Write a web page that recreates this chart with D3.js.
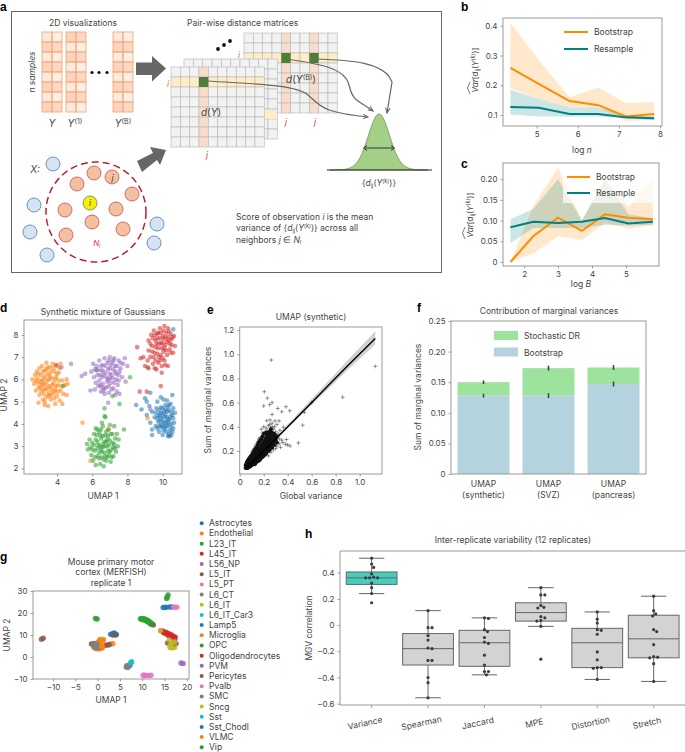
<!DOCTYPE html>
<html>
<head>
<meta charset="utf-8">
<script src="https://cdn.jsdelivr.net/npm/d3@7"></script>
<style>
  html, body { margin: 0; padding: 0; background: #fff; }
  svg text { font-family: Inter, "Noto Sans", sans-serif; fill: #444; }
</style>
</head>
<body>
<div id="chart"></div>
<script>
// panel b
const logN = [4.36, 5.05, 5.8, 6.5, 7.17, 7.86];
const bBoot = [0.258, 0.205, 0.147, 0.133, 0.095, 0.103];
const bBootHi = [0.41, 0.285, 0.16, 0.192, 0.14, 0.143];
const bBootLo = [0.19, 0.155, 0.125, 0.125, 0.08, 0.085];
const bRes = [0.127, 0.124, 0.103, 0.103, 0.092, 0.089];
const bResHi = [0.185, 0.155, 0.125, 0.125, 0.098, 0.095];
const bResLo = [0.102, 0.095, 0.095, 0.095, 0.088, 0.083];

// panel c
const logB = [1.6, 2.27, 3, 3.7, 4.38, 5.07, 5.79];
const cBoot = [0, 0.062, 0.107, 0.075, 0.115, 0.107, 0.103];
const cBootHi = [0, 0.135, 0.228, 0.1, 0.2, 0.132, 0.2];
const cBootLo = [0, 0.02, 0.062, 0.053, 0.095, 0.08, 0.088];
const cRes = [0.084, 0.097, 0.094, 0.097, 0.106, 0.093, 0.097];
const cResHi = [0.103, 0.128, 0.2, 0.1, 0.2, 0.115, 0.105];
const cResLo = [0.045, 0.082, 0.082, 0.082, 0.09, 0.088, 0.09];

// panel d
const dBlue = [[8.5,4.85],[8.8,4.65],[9.0,5.15],[9.3,5.4],[9.1,4.4],[9.1,5.0],[9.25,4.8],[9.4,4.55],[9.3,4.05],[9.4,3.75],[9.4,3.5],[9.55,4.3],[9.6,3.9],[9.65,4.7],[9.7,5.0],[9.75,4.4],[9.8,3.65],[9.85,4.15],[9.9,5.2],[9.9,4.75],[9.95,3.85],[10.0,4.45],[10.0,3.5],[10.05,5.1],[10.1,4.05],[10.15,4.85],[10.2,3.65],[10.25,4.3],[10.25,5.05],[10.3,3.45],[10.3,3.95],[10.35,4.6],[10.4,4.2],[10.4,3.7],[10.45,4.9],[10.5,3.5],[10.5,4.0],[10.55,5.3],[10.55,4.4],[10.65,4.05],[10.7,4.5],[9.8,4.6],[10.1,4.55],[10.2,4.1],[10.6,3.8],[10.6,8.25],[9.9,3.95],[10.0,4.7],[10.3,4.75],[10.15,3.8],[9.75,4.1],[10.45,4.35],[10.35,3.55],[9.7,3.8],[9.8,3.9],[9.85,4.35],[9.95,4.25],[10.05,3.7],[10.05,3.9],[10.1,4.3],[10.15,4.4],[10.2,3.9],[10.25,4.55],[10.3,4.2],[10.35,4.05],[10.4,3.45],[10.45,3.85],[10.5,4.55],[10.55,3.65],[10.6,4.25],[9.9,4.5],[9.7,4.25],[10.0,4.1],[10.35,4.85],[10.15,4.65],[9.6,4.5],[10.6,4.7]];
const dOrange = [[2.6,6.0],[2.7,5.8],[2.75,6.2],[2.8,5.5],[2.85,6.35],[2.9,6.05],[2.95,5.65],[3.0,5.3],[3.0,6.5],[3.05,5.9],[3.1,6.2],[3.1,5.45],[3.15,6.6],[3.2,5.1],[3.2,5.75],[3.25,6.05],[3.3,6.4],[3.3,4.85],[3.35,5.55],[3.4,6.75],[3.4,5.2],[3.45,5.95],[3.5,6.25],[3.5,4.8],[3.55,5.4],[3.6,6.55],[3.6,5.7],[3.65,5.1],[3.7,6.05],[3.75,6.7],[3.75,5.35],[3.8,5.85],[3.85,6.35],[3.9,5.55],[3.9,4.9],[3.95,6.1],[4.0,5.25],[4.0,6.6],[4.05,5.75],[4.1,6.3],[4.15,5.05],[4.2,5.5],[4.2,6.7],[4.3,5.95],[4.35,5.35],[4.45,5.75],[4.55,6.0],[4.6,5.8],[4.55,5.3],[4.3,4.9],[2.95,4.95],[3.3,5.0],[3.5,5.6],[3.3,5.85],[3.7,5.55],[3.6,6.15],[3.15,5.95],[2.9,5.85],[3.85,5.15],[3.4,6.45],[5.45,4.05],[6.95,3.75],[5.9,2.35],[9.15,4.25],[2.8,5.95],[2.95,6.25],[3.05,5.6],[3.2,6.35],[3.25,5.35],[3.35,6.15],[3.4,5.75],[3.5,5.3],[3.55,6.0],[3.6,5.25],[3.65,6.35],[3.75,5.75],[3.8,6.5],[3.85,5.45],[3.9,6.0],[3.95,5.7],[4.0,6.25],[4.05,5.45],[4.1,5.95],[4.15,6.5],[4.25,5.7],[3.25,5.55],[3.45,6.55],[3.1,5.75]];
const dGreen = [[5.7,3.1],[5.75,2.85],[5.85,3.3],[5.9,2.95],[5.95,2.6],[6.0,3.15],[6.05,2.35],[6.1,3.55],[6.15,2.8],[6.2,3.3],[6.2,2.15],[6.2,3.8],[6.3,2.55],[6.35,3.05],[6.4,3.65],[6.45,2.2],[6.5,2.85],[6.5,3.35],[6.55,2.5],[6.6,3.9],[6.6,3.1],[6.65,2.1],[6.7,2.7],[6.75,3.5],[6.8,2.35],[6.85,3.0],[6.9,3.75],[6.95,2.6],[7.0,3.25],[7.05,2.3],[7.1,2.85],[7.15,3.55],[7.2,2.55],[7.25,3.1],[7.3,3.35],[7.35,2.75],[7.4,3.55],[7.45,3.0],[7.5,3.3],[6.55,4.05],[7.0,3.95],[7.25,3.9],[7.8,3.75],[6.7,4.35],[6.75,4.3],[6.7,4.7],[7.55,4.9],[8.15,6.1],[7.15,5.25],[4.35,5.7],[9.15,6.55],[6.25,6.4],[6.45,3.0],[6.7,3.2],[6.3,2.9],[6.9,2.8],[6.6,2.95],[6.85,3.3],[6.4,2.7],[6.0,2.85],[6.1,3.05],[6.15,2.5],[6.25,3.5],[6.3,3.2],[6.4,2.45],[6.45,3.5],[6.55,2.75],[6.6,3.45],[6.65,2.4],[6.7,3.0],[6.75,2.55],[6.8,3.2],[6.85,2.5],[6.9,3.45],[6.95,3.05],[7.0,2.75],[7.05,3.55],[7.1,2.5],[7.15,3.15],[7.2,2.95],[7.3,2.9],[6.5,3.75],[6.3,3.75],[6.8,3.65]];
const dRed = [[8.55,7.45],[8.75,6.95],[8.9,7.0],[9.0,6.6],[9.15,6.85],[9.2,7.3],[9.2,6.5],[9.2,7.75],[9.3,7.0],[9.35,8.0],[9.4,7.5],[9.45,6.7],[9.5,8.2],[9.55,7.2],[9.6,7.75],[9.65,6.45],[9.7,8.05],[9.75,7.4],[9.8,7.0],[9.85,8.3],[9.9,7.65],[9.95,6.6],[9.95,6.3],[10.0,7.95],[10.05,7.25],[10.1,8.4],[10.1,6.85],[10.15,7.55],[10.2,8.1],[10.25,7.1],[10.3,8.3],[10.3,6.6],[10.35,7.75],[10.4,7.35],[10.45,8.05],[10.5,7.55],[10.55,7.9],[10.6,7.2],[10.65,7.95],[10.7,7.5],[9.75,8.1],[10.05,7.8],[8.7,5.45],[9.1,5.45],[9.9,5.7],[3.95,6.65],[9.7,7.15],[9.9,7.1],[10.0,6.95],[9.6,7.45],[9.3,7.6],[9.4,7.25],[9.45,7.85],[9.5,7.0],[9.55,8.0],[9.6,6.85],[9.65,7.6],[9.7,7.85],[9.75,6.75],[9.8,7.6],[9.85,7.85],[9.9,8.1],[9.95,7.4],[10.0,7.6],[10.05,8.2],[10.1,7.4],[10.15,7.9],[10.2,7.3],[10.25,7.7],[10.3,7.9],[10.35,8.15],[10.4,7.6],[10.45,7.2],[10.5,7.8],[9.85,6.85],[10.15,6.65],[9.55,6.5]];
const dPurple = [[5.4,6.15],[5.6,6.25],[5.9,5.5],[5.95,6.35],[6.05,6.7],[6.1,6.1],[6.15,6.45],[6.2,5.85],[6.25,6.6],[6.3,6.2],[6.35,5.7],[6.4,6.85],[6.4,5.95],[6.5,6.4],[6.5,5.45],[6.55,6.1],[6.6,6.65],[6.6,5.8],[6.7,6.95],[6.7,5.35],[6.75,6.3],[6.8,5.65],[6.85,6.75],[6.9,6.0],[6.95,5.4],[7.0,6.5],[7.0,7.0],[7.05,5.85],[7.1,6.2],[7.15,6.75],[7.2,5.6],[7.25,6.95],[7.3,6.35],[7.3,5.3],[7.35,6.0],[7.4,6.6],[7.45,5.75],[7.5,6.85],[7.5,6.2],[7.55,5.35],[7.6,6.5],[7.7,6.1],[7.75,6.7],[7.85,6.95],[8.0,6.6],[7.9,5.9],[6.9,4.95],[4.8,6.7],[4.25,6.55],[6.15,5.55],[9.3,4.65],[6.8,6.1],[7.0,6.25],[6.6,6.4],[7.2,6.45],[6.95,5.7],[6.3,6.45],[6.45,6.2],[6.5,6.6],[6.55,5.65],[6.65,6.2],[6.7,5.6],[6.75,6.6],[6.85,5.9],[6.9,6.45],[6.95,6.85],[7.0,6.05],[7.05,6.65],[7.1,5.55],[7.15,6.05],[7.2,6.85],[7.25,5.85],[7.3,6.6],[7.35,6.25],[7.4,5.45],[6.45,5.75],[6.65,5.5],[7.5,5.95],[7.6,6.75],[7.55,6.35]];
const dColors = ["#1f77b4", "#ff7f0e", "#2ca02c", "#d62728", "#9467bd"];
const dSeries = [dBlue, dOrange, dGreen, dRed, dPurple];

// panel e
const eOutliers = [[0.264,0.952],[1.13,0.9],[0.858,0.645],[0.205,0.69],[0.23,0.637],[0.27,0.6],[0.25,0.583],[0.2,0.572],[0.317,0.552],[0.35,0.525],[0.386,0.566],[0.417,0.533],[0.539,0.519],[0.6,0.6],[0.27,0.502],[0.525,0.413],[0.489,0.267],[0.225,0.45],[0.253,0.457],[0.294,0.449],[0.328,0.449],[0.42,0.242],[0.39,0.295],[0.35,0.29],[0.383,0.256],[0.364,0.396],[0.4,0.25],[0.33,0.3],[0.31,0.42],[0.335,0.37],[0.29,0.4],[0.2,0.4],[0.18,0.38],[0.24,0.41],[0.27,0.43],[0.21,0.36],[0.3,0.36],[0.28,0.38],[0.26,0.39],[0.23,0.37],[0.32,0.34],[0.25,0.42],[0.27,0.4],[0.22,0.39],[0.19,0.35],[0.3,0.33],[0.33,0.26],[0.36,0.27],[0.34,0.23],[0.31,0.24],[0.28,0.21],[0.3,0.22],[0.26,0.19],[0.24,0.16],[0.17,0.31],[0.16,0.3],[0.15,0.28],[0.14,0.26],[0.13,0.24],[0.12,0.22],[0.11,0.2],[0.1,0.19]];
const eDense = [[0.05,0.06],[0.05,0.08],[0.055,0.07],[0.055,0.09],[0.06,0.06],[0.06,0.075],[0.06,0.095],[0.06,0.11],[0.065,0.06],[0.065,0.08],[0.065,0.1],[0.07,0.065],[0.07,0.085],[0.07,0.11],[0.07,0.125],[0.075,0.07],[0.075,0.09],[0.075,0.105],[0.08,0.07],[0.08,0.09],[0.08,0.12],[0.08,0.14],[0.085,0.08],[0.085,0.1],[0.09,0.075],[0.09,0.095],[0.09,0.115],[0.09,0.135],[0.09,0.155],[0.095,0.085],[0.095,0.105],[0.1,0.085],[0.1,0.1],[0.1,0.12],[0.1,0.14],[0.1,0.165],[0.105,0.09],[0.11,0.095],[0.11,0.115],[0.11,0.13],[0.11,0.15],[0.11,0.18],[0.115,0.105],[0.12,0.1],[0.12,0.125],[0.12,0.145],[0.12,0.165],[0.12,0.2],[0.125,0.115],[0.13,0.115],[0.13,0.135],[0.13,0.155],[0.13,0.175],[0.13,0.215],[0.14,0.125],[0.14,0.145],[0.14,0.165],[0.14,0.19],[0.14,0.23],[0.15,0.13],[0.15,0.155],[0.15,0.175],[0.15,0.2],[0.15,0.25],[0.16,0.14],[0.16,0.165],[0.16,0.19],[0.16,0.215],[0.16,0.27],[0.17,0.15],[0.17,0.175],[0.17,0.2],[0.17,0.23],[0.17,0.285],[0.18,0.165],[0.18,0.19],[0.18,0.215],[0.18,0.245],[0.18,0.3],[0.19,0.175],[0.19,0.2],[0.19,0.225],[0.19,0.26],[0.19,0.32],[0.2,0.19],[0.2,0.215],[0.2,0.24],[0.2,0.275],[0.2,0.34],[0.21,0.205],[0.21,0.23],[0.21,0.255],[0.21,0.29],[0.22,0.21],[0.22,0.24],[0.22,0.27],[0.22,0.31],[0.22,0.35],[0.23,0.225],[0.23,0.255],[0.23,0.285],[0.23,0.33],[0.24,0.23],[0.24,0.26],[0.24,0.3],[0.24,0.35],[0.25,0.235],[0.25,0.27],[0.25,0.31],[0.25,0.36],[0.26,0.25],[0.26,0.285],[0.26,0.33],[0.26,0.38],[0.27,0.26],[0.27,0.3],[0.27,0.35],[0.28,0.27],[0.28,0.32],[0.29,0.28],[0.29,0.34],[0.3,0.29],[0.3,0.31],[0.31,0.32],[0.12,0.09],[0.14,0.11],[0.16,0.12],[0.18,0.145],[0.2,0.16],[0.22,0.18],[0.24,0.2],[0.13,0.095],[0.17,0.13],[0.19,0.15],[0.21,0.17],[0.25,0.21],[0.27,0.23],[0.29,0.25],[0.31,0.27],[0.06,0.085],[0.07,0.075],[0.08,0.08],[0.09,0.085],[0.1,0.11],[0.11,0.105],[0.12,0.11],[0.13,0.125],[0.14,0.135],[0.15,0.145],[0.16,0.155],[0.17,0.165],[0.18,0.175],[0.19,0.19],[0.2,0.2],[0.21,0.215],[0.22,0.225],[0.23,0.24],[0.24,0.245]];
const eFitX = [0.06, 0.3, 0.6, 0.9, 1.13];
const eFitY = [0.065, 0.3, 0.6, 0.905, 1.13];
const eFitHi = [0.07, 0.315, 0.63, 0.95, 1.19];
const eFitLo = [0.06, 0.29, 0.58, 0.87, 1.08];

// panel f
const fCats = [["UMAP", "(synthetic)"], ["UMAP", "(SVZ)"], ["UMAP", "(pancreas)"]];
const fBoot = [0.128, 0.128, 0.147];
const fTotal = [0.15, 0.173, 0.174];
const fBootErr = [0.003, 0.004, 0.004];
const fTotalErr = [0.003, 0.004, 0.004];

// panel g, one short run of points per blob
const gNames = ["Astrocytes","Endothelial","L23_IT","L45_IT","L56_NP","L5_IT","L5_PT","L6_CT","L6_IT","L6_IT_Car3","Lamp5","Microglia","OPC","Oligodendrocytes","PVM","Pericytes","Pvalb","SMC","Sncg","Sst","Sst_Chodl","VLMC","Vip"];
const gColors = ["#1f77b4","#ff7f0e","#2ca02c","#d62728","#9467bd","#8c564b","#e377c2","#7f7f7f","#bcbd22","#17becf","#1f77b4","#ff7f0e","#2ca02c","#d62728","#9467bd","#8c564b","#e377c2","#7f7f7f","#bcbd22","#17becf","#1f77b4","#ff7f0e","#2ca02c"];
const gPoints = {
  Astrocytes: [[16.2,22.7],[16.6,22.7],[2.9,10.3],[3.3,10.6],[3.8,10.6],[4.2,10.3]],
  Endothelial: [[-0.9,4.6],[-0.6,4],[-0.2,3.7],[0.2,3.7],[0.6,3.8],[1,4.1],[2.8,5.9],[3.4,6]],
  L23_IT: [[9.6,17.4],[10,17.5],[10.4,17.4],[10.8,17.1],[11.2,16.7],[11.6,16.2],[12,15.5],[12.3,14.9],[9.9,17],[10.5,16.7],[11,16.2],[11.5,15.6],[12,14.9]],
  L45_IT: [[14.2,11.9],[14.7,11.7],[15.2,11.2],[15.7,10.6],[16.2,10.1],[16.7,9.6],[17.2,9],[17.3,7.8],[14.8,11],[15.4,10.4],[16,9.6],[16.6,9],[17,8.2]],
  L56_NP: [[17.1,7.7],[17.1,8.2]],
  L5_IT: [[12.5,14.6],[15.7,6.4],[17.6,6.1],[3.7,10.1],[4.1,10],[-1.4,5.9],[-1,6.1]],
  L5_PT: [[17,22.6],[17.4,22.6],[17.8,22.6]],
  L6_CT: [[-1,5.4],[-0.6,5],[-0.2,4.8],[0.2,4.4],[-0.3,5.6],[0.5,5.2],[-0.6,4.4],[0,4.2],[6.4,-4.6],[6.8,-4.8],[7,-4.2],[7.3,-3.7],[6.9,-3.8],[6.5,-4]],
  L6_IT: [[14.1,12],[16.1,7.7],[16.9,5],[16.4,4.2],[16.9,4.2],[17.3,4.4],[17.2,5.6],[16.6,4.7],[16.2,4.5]],
  L6_IT_Car3: [[7.4,-2.6],[7.6,-2.2]],
  Lamp5: [[14.7,22.5],[15.1,22.5],[15.4,22.6]],
  Microglia: [[0.1,6.8],[0.5,7.2],[0.9,7.6],[1.3,8],[0.5,8],[1.2,7.3]],
  OPC: [[15.8,28.2],[15.6,27.2],[15.5,26.6],[-0.5,17.5],[-0.1,17.3]],
  Oligodendrocytes: [[15.4,11.2],[16,10.6],[16.6,10],[17,9.2],[17.4,9]],
  PVM: [[18.7,-2.7],[19.2,-2.9]],
  Pericytes: [[-12.6,8.1],[-12.2,8.5],[3.4,10],[1.8,5.3],[2.2,5.5],[2.6,5.6]],
  Pvalb: [[10.2,-8.4],[10.6,-8.5],[11,-8.4],[11.5,-8.4],[12,-8.3],[10.4,-8.2]],
  SMC: [[-0.8,6.2],[-0.2,6.1],[0.2,4.8],[17.2,6.1]],
  Sncg: [[16.4,5.7],[17.2,6.8]],
  Sst: [[7.6,-2.3]],
  Sst_Chodl: [[3.7,10.9]],
  VLMC: [[1.1,4.5],[0.9,5]],
  Vip: [[12,15.1]]
};

// panel h
const hCats = ["Variance", "Spearman", "Jaccard", "MPE", "Distortion", "Stretch"];
const hValues = [
  [0.51, 0.465, 0.44, 0.39, 0.365, 0.36, 0.36, 0.36, 0.32, 0.285, 0.24, 0.17],
  [0.11, -0.02, -0.02, -0.08, -0.115, -0.175, -0.18, -0.27, -0.27, -0.4, -0.44, -0.555],
  [0.055, 0.05, -0.035, -0.05, -0.095, -0.13, -0.14, -0.23, -0.305, -0.355, -0.355, -0.38],
  [0.285, 0.23, 0.23, 0.15, 0.135, 0.13, 0.065, 0.055, 0.035, 0.03, -0.01, -0.26],
  [0.1, 0.045, 0.015, -0.035, -0.04, -0.07, -0.205, -0.265, -0.325, -0.325, -0.33, -0.415],
  [0.22, 0.11, 0.085, 0.07, -0.035, -0.05, -0.15, -0.24, -0.245, -0.25, -0.295, -0.43]
];
const hQ1 = [0.31, -0.305, -0.315, 0.03, -0.325, -0.25];
const hMed = [0.36, -0.18, -0.135, 0.095, -0.135, -0.105];
const hQ3 = [0.405, -0.065, -0.04, 0.17, -0.025, 0.075];
const hWhiskLo = [0.24, -0.555, -0.38, -0.01, -0.415, -0.43];
const hWhiskHi = [0.51, 0.11, 0.055, 0.285, 0.1, 0.22];

// panel a
const aBlue = [[53,164],[34,205],[30,232],[47,255],[157,224],[154,243]];
const aRed = [[94,173],[77,184],[132,194],[65,210],[116,209],[92,222],[66,235],[123,229]];

const ORANGE = "#ff8c00", TEAL = "#008080", SPINE = "#999", TXT = "#444";
const FS = 8.5, TICK = 8;
const fmtNum = d => d === 0 ? "0" : String(d).replace("-", "\u2212");

const svg = d3.select("#chart").append("svg")
  .attr("width", 685).attr("height", 752)
  .style("display", "block");

function label(x, y, str, size, anchor, rot) {
  const t = svg.append("text")
    .attr("x", x).attr("y", y)
    .attr("font-size", size || FS)
    .attr("text-anchor", anchor || "middle")
    .text(str);
  if (rot) t.attr("transform", `rotate(${rot},${x},${y})`);
  return t;
}

function letter(x, y, str) {
  label(x, y, str, 12, "start").attr("font-weight", 800).style("fill", "#000").style("font-family", "Liberation Sans, sans-serif");
}

function frame(x, y) {
  const [x0, x1] = x.range(), [y1, y0] = y.range();
  svg.append("rect").attr("x", x0).attr("y", y0)
    .attr("width", x1 - x0).attr("height", y1 - y0)
    .attr("fill", "none").attr("stroke", SPINE).attr("stroke-width", 1);
}

function axes(x, y, xt, yt, xFmt, yFmt) {
  const bottom = y.range()[0], left = x.range()[0];
  const gx = svg.append("g").attr("transform", `translate(0,${bottom})`)
    .call(d3.axisBottom(x).tickValues(xt).tickSize(2.5).tickPadding(3).tickFormat(xFmt || fmtNum));
  const gy = svg.append("g").attr("transform", `translate(${left},0)`)
    .call(d3.axisLeft(y).tickValues(yt).tickSize(2.5).tickPadding(3).tickFormat(yFmt || fmtNum));
  [gx, gy].forEach(g => {
    g.select(".domain").remove();
    g.selectAll("line").attr("stroke", "#777").attr("stroke-width", 0.7);
    g.selectAll("text").attr("font-size", TICK).style("fill", TXT);
  });
}

function bandLine(x, y, xs, mid, hi, lo, color) {
  const area = d3.area().x((d, i) => x(xs[i])).y0((d, i) => y(lo[i])).y1((d, i) => y(hi[i]));
  const line = d3.line().x((d, i) => x(xs[i])).y((d, i) => y(d));
  svg.append("path").attr("d", area(mid)).attr("fill", color).attr("opacity", 0.2);
  return () => svg.append("path").attr("d", line(mid)).attr("fill", "none").attr("stroke", color).attr("stroke-width", 2);
}

// ---- a ----
letter(0, 11, "a");
svg.append("rect").attr("x", 11.5).attr("y", 11.5).attr("width", 430).attr("height", 261)
  .attr("fill", "#fff").attr("stroke", "#666").attr("stroke-width", 1);
label(83, 26, "2D visualizations");
label(187, 26, "Pair-wise distance matrices", FS, "start");
label(35, 72, "n samples", FS, "middle", -90).attr("font-style", "italic");

[42, 66, 113].forEach((x0, k) => {
  d3.range(8).forEach(r => d3.range(2).forEach(c => {
    svg.append("rect").attr("x", x0 + c * 10).attr("y", 32 + r * 10)
      .attr("width", 10).attr("height", 10)
      .attr("fill", "#f9c9ad").attr("fill-opacity", ((r + k) % 2 ? 0.8 : 0.4) - c * 0.1)
      .attr("stroke", "#f4a26f").attr("stroke-width", 0.8);
  }));
});
[[52, "Y", ""], [75, "Y", "(1)"], [123, "Y", "(B)"]].forEach(([x, a, b]) => {
  const t = label(x, 127, "", 10);
  t.append("tspan").attr("font-style", "italic").text(a);
  if (b) t.append("tspan").attr("font-size", 7).attr("dy", -3).text(b);
});
[92, 99, 107].forEach(x => svg.append("circle").attr("cx", x).attr("cy", 72.5).attr("r", 1.6).attr("fill", "#111"));
[[218, 49], [224, 45], [230, 41]].forEach(([x, y]) => svg.append("circle").attr("cx", x).attr("cy", y).attr("r", 1.9).attr("fill", "#111"));

function matrix(x0, y0, cols, row, fillAll) {
  const w = 9.33, h = 10;
  d3.range(8).forEach(r => d3.range(10).forEach(c => {
    let fill = "#f2f2f2";
    if (fillAll) {
      if (r === row) fill = "#fdeec5";
      if (cols.includes(c)) fill = "#f9dccb";
    }
    svg.append("rect").attr("x", x0 + c * w).attr("y", y0 + r * h).attr("width", w).attr("height", h)
      .attr("fill", fill).attr("stroke", "#bdbdbd").attr("stroke-width", 0.7);
  }));
  if (fillAll) cols.forEach(c => {
    svg.append("rect").attr("x", x0 + c * w).attr("y", y0 + row * h).attr("width", w).attr("height", h).attr("fill", "#4f7f36");
  });
}
matrix(244, 33, [4, 7], 2, true);
matrix(184, 59, [], 5, false);
svg.append("rect").attr("x", 265).attr("y", 110).attr("width", 12).attr("height", 9).attr("fill", "#fdeec5");
matrix(171, 67, [3], 1, true);

label(301, 83, "", 10).call(t => {
  t.append("tspan").attr("font-style", "italic").text("d");
  t.append("tspan").text("(");
  t.append("tspan").attr("font-style", "italic").text("Y");
  t.append("tspan").attr("font-size", 7).attr("dy", -3).text("(B)");
  t.append("tspan").attr("dy", 3).text(")");
});
label(211, 116, "", 10).call(t => {
  t.append("tspan").attr("font-style", "italic").text("d");
  t.append("tspan").text("(");
  t.append("tspan").attr("font-style", "italic").text("Y");
  t.append("tspan").text(")");
});
[[168, 87, "i", "#b58a2a"], [239, 58, "i", "#b58a2a"], [207, 158, "j", "#d33"], [286, 125, "j", "#d33"], [315, 125, "j", "#d33"]].forEach(([x, y, s, c]) => {
  label(x, y, s, 8.5).attr("font-style", "italic").style("fill", c);
});

// big grey arrows
svg.append("path").attr("d", "M136,62.5H152V56L166,68.5L152,81.5V75H136Z").attr("fill", "#666");
svg.append("path").attr("d", "M142,172L137,161L153,153L150,147L166,150L160,165L157,160Z").attr("fill", "#666");

// curves to the gaussian
svg.append("defs").append("marker").attr("id", "ah").attr("viewBox", "0 0 8 8").attr("refX", 7).attr("refY", 4)
  .attr("markerWidth", 5).attr("markerHeight", 5).attr("orient", "auto")
  .append("path").attr("d", "M0,1L7,4L0,7").attr("fill", "none").attr("stroke", "#666").attr("stroke-width", 1.4);
["M207,81C250,84 295,84 308,95S320,112 368,117",
 "M287,59C320,64 345,68 349,85S358,100 373,111",
 "M315,59C350,60 385,62 392,82L387,113"].forEach(d => {
  svg.append("path").attr("d", d).attr("fill", "none").attr("stroke", "#666").attr("stroke-width", 1.2).attr("marker-end", "url(#ah)");
});

// gaussian shape of the sketch
const gaussX = d3.scaleLinear().domain([-1, 1]).range([330, 428]);
const gaussY = d3.scaleLinear().domain([0, 1]).range([170, 114]);
const gaussT = d3.range(-1, 1.001, 0.02);
svg.append("path")
  .attr("d", d3.area().x(d => gaussX(d)).y0(gaussY(0)).y1(d => gaussY(0.9 * Math.exp(-d * d / 0.09) + 0.1 * Math.exp(-d * d / 0.3) * (1 - d * d)))(gaussT))
  .attr("fill", "#a5cf87").attr("stroke", "#4f7f36").attr("stroke-width", 0.6);
svg.append("line").attr("x1", 327).attr("x2", 432).attr("y1", 170).attr("y2", 170).attr("stroke", "#222").attr("stroke-width", 1.1);
svg.append("line").attr("x1", 365).attr("x2", 393).attr("y1", 148).attr("y2", 148).attr("stroke", "#334").attr("stroke-width", 1);
svg.append("path").attr("d", "M367,145.5L363.5,148L367,150.5M391,145.5L394.5,148L391,150.5").attr("fill", "none").attr("stroke", "#334");

function dij(t) {
  t.append("tspan").text("{");
  t.append("tspan").attr("font-style", "italic").text("d");
  t.append("tspan").attr("font-size", 5.5).attr("dy", 1.5).text("ij");
  t.append("tspan").attr("dy", -1.5).text("(");
  t.append("tspan").attr("font-style", "italic").text("Y");
  t.append("tspan").attr("font-size", 5.5).attr("dy", -3).text("(k)");
  t.append("tspan").attr("dy", 3).text(")}");
}
label(379, 186, "").call(dij);
label(236, 220, "Score of observation ", FS, "start").call(t => {
  t.append("tspan").attr("font-style", "italic").text("i");
  t.append("tspan").text(" is the mean");
});
label(236, 231, "variance of ", FS, "start").call(t => {
  dij(t);
  t.append("tspan").text(" across all");
});
label(236, 242.5, "neighbors ", FS, "start").call(t => {
  t.append("tspan").attr("font-style", "italic").text("j");
  t.append("tspan").text(" \u2208 ");
  t.append("tspan").attr("font-style", "italic").text("N");
  t.append("tspan").attr("font-style", "italic").attr("font-size", 5.5).attr("dy", 1.5).text("i");
});

// neighbourhood sketch
label(35, 173, "X:", 10).attr("font-style", "italic");
aBlue.forEach(([x, y]) => svg.append("circle").attr("cx", x).attr("cy", y).attr("r", 7)
  .attr("fill", "#d5e3f3").attr("stroke", "#4b7aa8").attr("stroke-width", 0.8));
svg.append("circle").attr("cx", 96).attr("cy", 212).attr("r", 50).attr("fill", "none")
  .attr("stroke", "#b5222c").attr("stroke-width", 1.5).attr("stroke-dasharray", "7,4");
aRed.forEach(([x, y]) => svg.append("circle").attr("cx", x).attr("cy", y).attr("r", 7)
  .attr("fill", "#f5c0a0").attr("stroke", "#c05050").attr("stroke-width", 0.8));
svg.append("circle").attr("cx", 112).attr("cy", 177).attr("r", 7).attr("fill", "#f5c0a0").attr("stroke", "#c05050").attr("stroke-width", 0.8);
label(112.5, 180.5, "j", 8.5).attr("font-style", "italic");
svg.append("circle").attr("cx", 90).attr("cy", 203).attr("r", 7).attr("fill", "#f5f000").attr("stroke", "#777").attr("stroke-width", 0.8);
label(90, 205.5, "i", 8.5).attr("font-style", "italic");
label(97, 246, "N", 8).attr("font-style", "italic").style("fill", "#d33")
  .append("tspan").attr("font-size", 5.5).attr("dy", 1.5).text("i");

// ---- b ----
letter(461, 11, "b");
{
  const x = d3.scaleLinear().domain([4.18, 8.05]).range([503, 662]);
  const y = d3.scaleLinear().domain([0.063, 0.426]).range([126, 18]);
  const drawA = bandLine(x, y, logN, bBoot, bBootHi, bBootLo, ORANGE);
  const drawB = bandLine(x, y, logN, bRes, bResHi, bResLo, TEAL);
  drawA(); drawB();
  frame(x, y);
  axes(x, y, [5, 6, 7, 8], [0.1, 0.2, 0.3, 0.4]);
  [[32, ORANGE, "Bootstrap"], [49, TEAL, "Resample"]].forEach(([ly, c, s]) => {
    svg.append("line").attr("x1", 564).attr("x2", 588).attr("y1", ly).attr("y2", ly).attr("stroke", c).attr("stroke-width", 2);
    label(594, ly + 3, s, FS, "start");
  });
  label(582, 153, "log ").append("tspan").attr("font-style", "italic").text("n");
}

function varLabel(cx, cy) {
  const g = svg.append("g").attr("transform", `translate(${cx},${cy}) rotate(-90)`);
  const t = g.append("text").attr("text-anchor", "middle").attr("font-size", 8);
  t.append("tspan").attr("font-style", "italic").text("Var");
  t.append("tspan").text("[");
  t.append("tspan").attr("font-style", "italic").text("d");
  t.append("tspan").attr("font-size", 5.5).attr("dy", 1.5).text("ij");
  t.append("tspan").attr("dy", -1.5).text("(");
  t.append("tspan").attr("font-style", "italic").text("Y");
  t.append("tspan").attr("font-size", 5.5).attr("dy", -3).text("(k)");
  t.append("tspan").attr("dy", 3).text(")]");
  g.append("path").attr("d", "M-24,-8L-18,-10.5L-12,-8").attr("fill", "none").attr("stroke", TXT).attr("stroke-width", 0.7);
}
varLabel(478, 70);

// ---- c ----
letter(461, 168, "c");
{
  const x = d3.scaleLinear().domain([1.38, 5.97]).range([503, 659]);
  const y = d3.scaleLinear().domain([-0.0097, 0.239]).range([266, 163]);
  const drawA = bandLine(x, y, logB, cBoot, cBootHi, cBootLo, ORANGE);
  const drawB = bandLine(x, y, logB, cRes, cResHi, cResLo, TEAL);
  svg.append("rect").attr("x", 563).attr("y", 163).attr("width", 96).attr("height", 40).attr("fill", "#fff").attr("opacity", 0.7);
  drawA(); drawB();
  frame(x, y);
  axes(x, y, [2, 3, 4, 5], [0, 0.05, 0.1, 0.15, 0.2], null, d => d === 0 ? "0" : d.toFixed(2));
  [[177, ORANGE, "Bootstrap"], [193, TEAL, "Resample"]].forEach(([ly, c, s]) => {
    svg.append("line").attr("x1", 567).attr("x2", 590).attr("y1", ly).attr("y2", ly).attr("stroke", c).attr("stroke-width", 2);
    label(596, ly + 3, s, FS, "start");
  });
  label(581, 287, "log ").append("tspan").attr("font-style", "italic").text("B");
}
varLabel(473, 215);

// ---- d ----
letter(0, 312, "d");
label(103, 315, "Synthetic mixture of Gaussians");
{
  const x = d3.scaleLinear().domain([2.125, 11.1]).range([24, 182]);
  const y = d3.scaleLinear().domain([1.75, 8.67]).range([474, 320]);
  dSeries.forEach((pts, k) => {
    svg.append("g").selectAll("circle").data(pts).join("circle")
      .attr("cx", d => x(d[0])).attr("cy", d => y(d[1])).attr("r", 2.3)
      .attr("fill", dColors[k]).attr("fill-opacity", 0.55);
  });
  frame(x, y);
  axes(x, y, [4, 6, 8, 10], [2, 3, 4, 5, 6, 7, 8]);
  label(103, 499, "UMAP 1");
  label(7, 395, "UMAP 2", FS, "middle", -90);
}

// ---- e ----
letter(207, 314, "e");
label(311, 320, "UMAP (synthetic)");
{
  const x = d3.scaleLinear().domain([0, 1.186]).range([239.7, 382]);
  const y = d3.scaleLinear().domain([0.01, 1.225]).range([474, 327]);
  const fitI = eFitX.map((d, i) => i);
  svg.append("path")
    .attr("d", d3.area().x(i => x(eFitX[i])).y0(i => y(eFitLo[i])).y1(i => y(eFitHi[i]))(fitI))
    .attr("fill", "#000").attr("opacity", 0.18);
  const plusPath = d => `M${x(d[0]) - 2},${y(d[1])}h4M${x(d[0])},${y(d[1]) - 2}v4`;
  svg.append("g").selectAll("path").data(eOutliers.concat(eDense)).join("path")
    .attr("d", plusPath).attr("stroke", "#222").attr("stroke-width", 0.6).attr("stroke-opacity", 0.75).attr("fill", "none");
  svg.append("g").selectAll("circle").data(eDense).join("circle")
    .attr("cx", d => x(d[0])).attr("cy", d => y(d[1])).attr("r", 2).attr("fill", "#111");
  svg.append("path").attr("d", d3.line().x(i => x(eFitX[i])).y(i => y(eFitY[i]))(fitI))
    .attr("stroke", "#000").attr("stroke-width", 1.4).attr("fill", "none");
  frame(x, y);
  axes(x, y, [0, 0.2, 0.4, 0.6, 0.8, 1], [0.2, 0.4, 0.6, 0.8, 1, 1.2], d => d === 0 ? "0" : d.toFixed(1), d => d.toFixed(1));
  label(311, 499, "Global variance");
  label(211, 400, "Sum of marginal variances", FS, "middle", -90);
}

// ---- f ----
letter(417, 312, "f");
label(549, 314, "Contribution of marginal variances");
{
  const x = d3.scaleBand().domain(d3.range(3)).range([451, 646]).paddingInner(0.2).paddingOuter(0.1);
  const y = d3.scaleLinear().domain([0, 0.25]).range([474, 321]);
  fTotal.forEach((t, i) => {
    svg.append("rect").attr("x", x(i)).attr("width", x.bandwidth()).attr("y", y(t)).attr("height", y(fBoot[i]) - y(t)).attr("fill", "#9de29d");
    svg.append("rect").attr("x", x(i)).attr("width", x.bandwidth()).attr("y", y(fBoot[i])).attr("height", y(0) - y(fBoot[i])).attr("fill", "#b5d3df");
    const cx = x(i) + x.bandwidth() / 2;
    [[t, fTotalErr[i]], [fBoot[i], fBootErr[i]]].forEach(([v, e]) => {
      svg.append("line").attr("x1", cx).attr("x2", cx).attr("y1", y(v - e)).attr("y2", y(v + e)).attr("stroke", "#444").attr("stroke-width", 1.6);
    });
  });
  frame(x, y);
  const gy = svg.append("g").attr("transform", "translate(451,0)")
    .call(d3.axisLeft(y).tickValues([0, 0.05, 0.1, 0.15, 0.2, 0.25]).tickSize(2.5).tickPadding(3).tickFormat(d => d === 0 ? "0" : d.toFixed(2)));
  gy.select(".domain").remove();
  gy.selectAll("line").attr("stroke", "#777").attr("stroke-width", 0.7);
  gy.selectAll("text").attr("font-size", TICK).style("fill", TXT);
  fCats.forEach((c, i) => {
    const cx = x(i) + x.bandwidth() / 2;
    label(cx, 487, c[0]);
    label(cx, 498, c[1]);
  });
  [[331, "#9de29d", "Stochastic DR"], [347.5, "#b5d3df", "Bootstrap"]].forEach(([ly, c, s]) => {
    svg.append("rect").attr("x", 494).attr("y", ly).attr("width", 24).attr("height", 9).attr("fill", c);
    label(524, ly + 8, s, FS, "start");
  });
  label(421, 397, "Sum of marginal variances", FS, "middle", -90);
}

// ---- g ----
letter(0, 561, "g");
["Mouse primary motor", "cortex (MERFISH)", "replicate 1"].forEach((s, i) => label(111, 565 + i * 10.4, s));
{
  const x = d3.scaleLinear().domain([-14.5, 20.5]).range([33, 189]);
  const y = d3.scaleLinear().domain([-10, 30]).range([679, 591]);
  gNames.forEach((n, k) => {
    svg.append("g").selectAll("circle").data(gPoints[n]).join("circle")
      .attr("cx", d => x(d[0])).attr("cy", d => y(d[1])).attr("r", 2.7)
      .attr("fill", gColors[k]).attr("fill-opacity", 0.85);
  });
  frame(x, y);
  axes(x, y, [-10, -5, 0, 5, 10, 15, 20], [-10, 0, 10, 20, 30]);
  label(111, 703, "UMAP 1");
  label(10, 635, "UMAP 2", FS, "middle", -90);
  const ly = d3.scalePoint().domain(gNames).range([523.3, 747.3]);
  gNames.forEach((n, k) => {
    svg.append("circle").attr("cx", 201.7).attr("cy", ly(n)).attr("r", 2).attr("fill", gColors[k]);
    label(209, ly(n) + 3, n, FS, "start");
  });
}

// ---- h ----
letter(305, 538, "h");
label(513, 543, "Inter-replicate variability (12 replicates)");
{
  const x = d3.scaleBand().domain(hCats).range([340.6, 684.7]).padding(0.1);
  const y = d3.scaleLinear().domain([-0.61, 0.565]).range([705, 551]);
  const cx = c => x(c) + x.bandwidth() / 2;
  const LINE = "#666";
  hCats.forEach((c, i) => {
    const m = cx(c), w = x.bandwidth() * 0.5;
    svg.append("line").attr("x1", m).attr("x2", m).attr("y1", y(hWhiskLo[i])).attr("y2", y(hWhiskHi[i])).attr("stroke", LINE).attr("stroke-width", 1);
    [hWhiskLo[i], hWhiskHi[i]].forEach(v => {
      svg.append("line").attr("x1", m - w / 2).attr("x2", m + w / 2).attr("y1", y(v)).attr("y2", y(v)).attr("stroke", LINE).attr("stroke-width", 1);
    });
    svg.append("rect").attr("x", x(c)).attr("width", x.bandwidth()).attr("y", y(hQ3[i])).attr("height", y(hQ1[i]) - y(hQ3[i]))
      .attr("fill", i === 0 ? "#45cdbd" : "#d3d3d3").attr("stroke", LINE).attr("stroke-width", 1);
    svg.append("line").attr("x1", x(c)).attr("x2", x(c) + x.bandwidth()).attr("y1", y(hMed[i])).attr("y2", y(hMed[i])).attr("stroke", LINE).attr("stroke-width", 1);
    // swarm: push a dot sideways until it clears those already placed
    const placed = [];
    const r = 1.6;
    hValues[i].forEach(v => {
      const py = y(v);
      let off = 0;
      for (const step of d3.range(0, 30).map(n => (n % 2 ? 1 : -1) * Math.ceil(n / 2))) {
        if (placed.every(p => Math.hypot(p[0] - step, p[1] - py) >= 2 * r + 0.3)) { off = step; break; }
      }
      placed.push([off, py]);
      svg.append("circle").attr("cx", m + off).attr("cy", py).attr("r", r).attr("fill", "#3d3d3d");
    });
    svg.append("line").attr("x1", m).attr("x2", m).attr("y1", 705).attr("y2", 708).attr("stroke", "#777").attr("stroke-width", 0.7);
    label(m - 6, 726, c, FS, "middle", -12);
  });
  svg.append("path").attr("d", "M685,551H340V705H685").attr("fill", "none").attr("stroke", SPINE).attr("stroke-width", 1);
  const gy = svg.append("g").attr("transform", "translate(340,0)")
    .call(d3.axisLeft(y).tickValues([-0.6, -0.4, -0.2, 0, 0.2, 0.4]).tickSize(2.5).tickPadding(3).tickFormat(fmtNum));
  gy.select(".domain").remove();
  gy.selectAll("line").attr("stroke", "#777").attr("stroke-width", 0.7);
  gy.selectAll("text").attr("font-size", TICK).style("fill", TXT);
  label(312, 628, "MGV correlation", FS, "middle", -90);
}
</script>
</body>
</html>
